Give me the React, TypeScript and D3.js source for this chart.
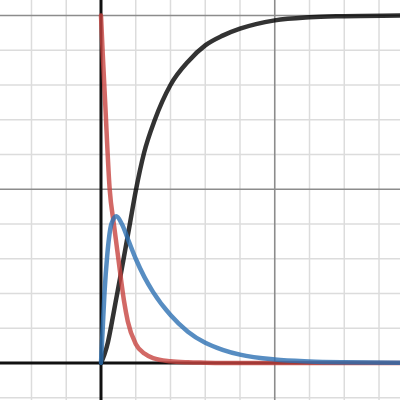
import React, { useEffect, useRef } from 'react';
import * as d3 from 'd3';

const width = 400;
const height = 400;

// visible window in graph units
const xDomain = [-2.906, 8.604];
const yDomain = [-1.065, 10.446];

// red: fast decay
const redX = [0, 0.05, 0.12, 0.25, 0.37, 0.5, 0.66, 0.77, 1.0, 1.25, 1.5, 2.0, 2.5, 3.0, 4.0, 8.7];
const redY = [10, 8.9, 7.5, 5.0, 4.0, 3.0, 1.8, 1.2, 0.55, 0.27, 0.14, 0.05, 0.02, 0.01, 0, 0];

// blue: rise and fall
const blueX = [0, 0.05, 0.1, 0.18, 0.3, 0.44, 0.6, 0.8, 1.0, 1.25, 1.5, 2.0, 2.5, 3.0, 3.5, 4.0, 5.0, 6.0, 7.0, 8.7];
const blueY = [0, 1.0, 2.0, 3.1, 4.0, 4.22, 4.0, 3.5, 3.0, 2.47, 2.04, 1.38, 0.9, 0.58, 0.38, 0.24, 0.1, 0.045, 0.02, 0.004];

// black: s-shaped rise to 10
const blackX = [0, 0.1, 0.2, 0.3, 0.42, 0.55, 0.66, 0.83, 1.0, 1.24, 1.55, 2.0, 2.53, 3.0, 3.5, 4.0, 5.0, 6.0, 7.0, 8.7];
const blackY = [0, 0.25, 0.6, 1.1, 1.75, 2.45, 3.05, 4.0, 4.95, 6.05, 7.0, 8.0, 8.7, 9.14, 9.42, 9.62, 9.86, 9.95, 9.98, 10];

const series = [
  { name: 'black', xs: blackX, ys: blackY, color: '#000000' },
  { name: 'red', xs: redX, ys: redY, color: '#c74440' },
  { name: 'blue', xs: blueX, ys: blueY, color: '#2d70b3' },
];

export default function App() {
  const svgRef = useRef(null);

  useEffect(() => {
    const svg = d3.select(svgRef.current);
    svg.selectAll('*').remove();

    const x = d3.scaleLinear().domain(xDomain).range([0, width]);
    const y = d3.scaleLinear().domain(yDomain).range([height, 0]);

    const xGrid = d3.range(Math.ceil(xDomain[0]), Math.floor(xDomain[1]) + 1);
    const yGrid = d3.range(Math.ceil(yDomain[0]), Math.floor(yDomain[1]) + 1);

    svg
      .append('rect')
      .attr('width', width)
      .attr('height', height)
      .attr('fill', '#ffffff');

    const grid = svg.append('g');

    // minor grid
    grid
      .append('g')
      .selectAll('line')
      .data(xGrid.filter((d) => d % 5 !== 0))
      .join('line')
      .attr('x1', (d) => x(d))
      .attr('x2', (d) => x(d))
      .attr('y1', 0)
      .attr('y2', height)
      .attr('stroke', '#dcdcdc')
      .attr('stroke-width', 1.5);
    grid
      .append('g')
      .selectAll('line')
      .data(yGrid.filter((d) => d % 5 !== 0))
      .join('line')
      .attr('y1', (d) => y(d))
      .attr('y2', (d) => y(d))
      .attr('x1', 0)
      .attr('x2', width)
      .attr('stroke', '#dcdcdc')
      .attr('stroke-width', 1.5);

    // major grid
    grid
      .append('g')
      .selectAll('line')
      .data(xGrid.filter((d) => d % 5 === 0 && d !== 0))
      .join('line')
      .attr('x1', (d) => x(d))
      .attr('x2', (d) => x(d))
      .attr('y1', 0)
      .attr('y2', height)
      .attr('stroke', '#8c8c8c')
      .attr('stroke-width', 1.6);
    grid
      .append('g')
      .selectAll('line')
      .data(yGrid.filter((d) => d % 5 === 0 && d !== 0))
      .join('line')
      .attr('y1', (d) => y(d))
      .attr('y2', (d) => y(d))
      .attr('x1', 0)
      .attr('x2', width)
      .attr('stroke', '#8c8c8c')
      .attr('stroke-width', 1.6);

    // axes
    svg
      .append('line')
      .attr('x1', x(0))
      .attr('x2', x(0))
      .attr('y1', 0)
      .attr('y2', height)
      .attr('stroke', '#111111')
      .attr('stroke-width', 3);
    svg
      .append('line')
      .attr('y1', y(0))
      .attr('y2', y(0))
      .attr('x1', 0)
      .attr('x2', width)
      .attr('stroke', '#111111')
      .attr('stroke-width', 3);

    const path = d3
      .line<[number, number]>()
      .x((d) => x(d[0]))
      .y((d) => y(d[1]))
      .curve(d3.curveMonotoneX);

    series.forEach((s) => {
      const pts = s.xs.map((v, i) => [v, s.ys[i]] as [number, number]);
      svg
        .append('path')
        .datum(pts)
        .attr('d', path)
        .attr('fill', 'none')
        .attr('stroke', s.color)
        .attr('stroke-opacity', 0.8)
        .attr('stroke-width', 4.5)
        .attr('stroke-linecap', 'round')
        .attr('stroke-linejoin', 'round');
    });
  }, []);

  return (
    <svg
      ref={svgRef}
      width={width}
      height={height}
      viewBox={`0 0 ${width} ${height}`}
      style={{ position: 'absolute', left: 0, top: 0, display: 'block' }}
    ></svg>
  );
}
